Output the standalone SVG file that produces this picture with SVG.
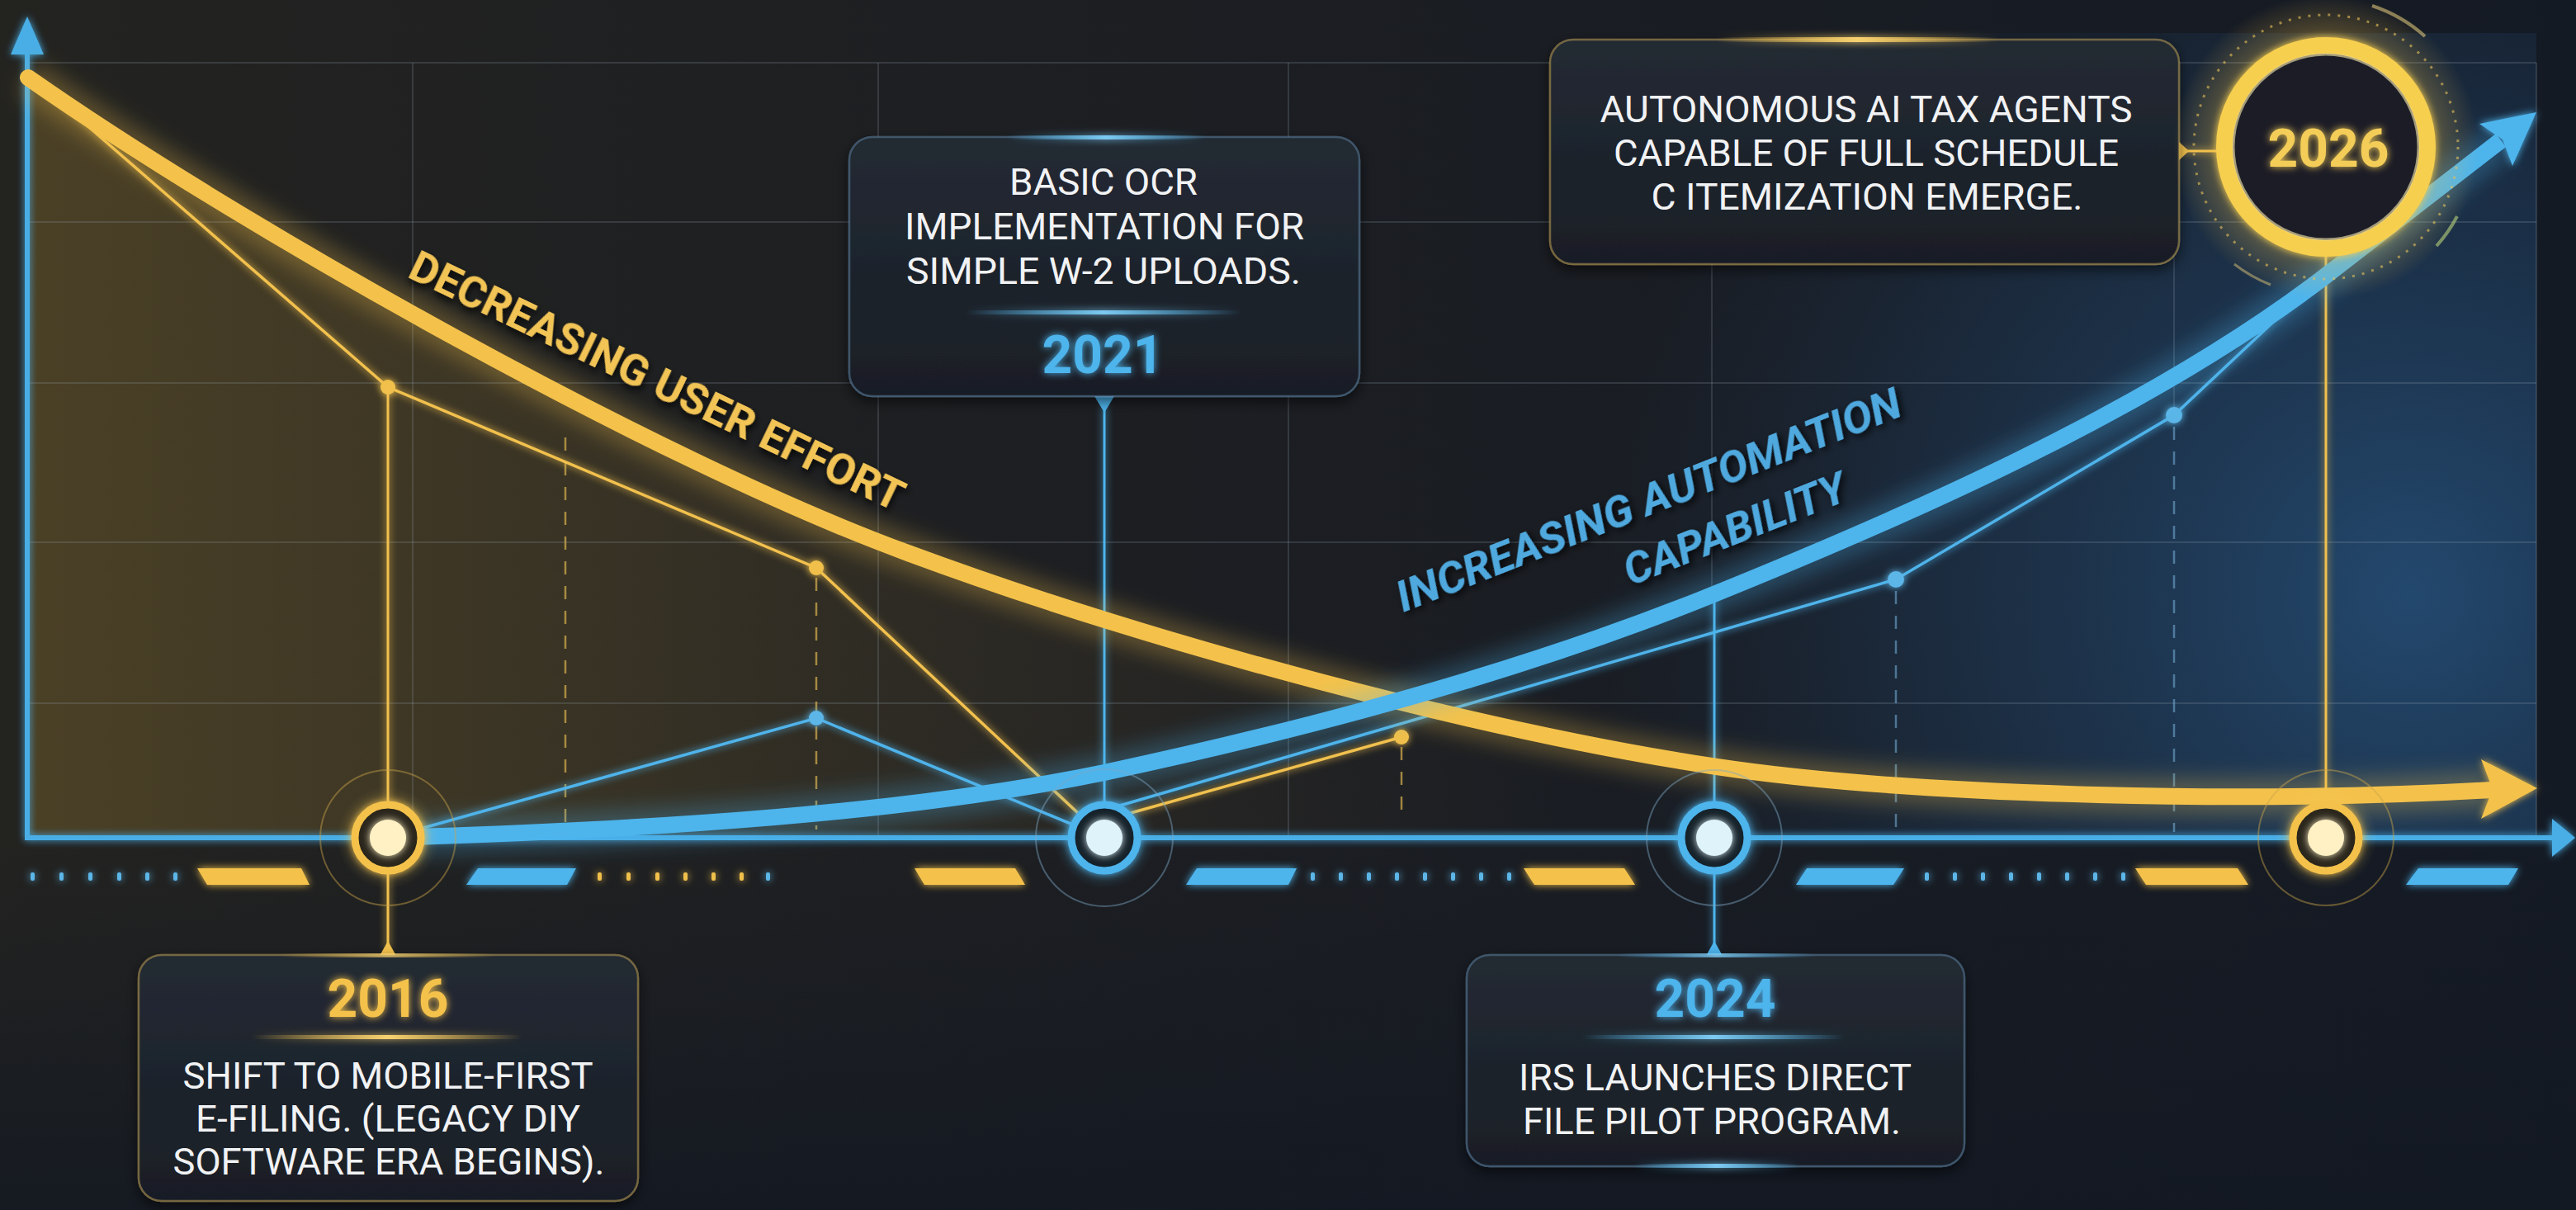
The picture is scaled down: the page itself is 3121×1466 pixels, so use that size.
<svg xmlns="http://www.w3.org/2000/svg" width="3121" height="1466" viewBox="0 0 3121 1466">
<defs>
<style>
.grid{stroke:#9aa8b8;stroke-opacity:.2;stroke-width:2;fill:none}
.dashY{stroke:#d9b04e;stroke-opacity:.7;stroke-width:2.5;stroke-dasharray:16 14;fill:none}
.dashB{stroke:#6fa8d0;stroke-opacity:.6;stroke-width:2.5;stroke-dasharray:16 14;fill:none}
.thinY{stroke:#f2c14e;stroke-width:3.5;fill:none}
.thinB{stroke:#4fb3ea;stroke-width:3.5;fill:none}
.body{font-family:Roboto,'Liberation Sans',sans-serif;font-size:44px;fill:#f1f2f4;text-anchor:middle}
.year{font-family:Roboto,'Liberation Sans',sans-serif;font-size:64px;font-weight:700;text-anchor:middle}
.gold{fill:#f4c24b}
.blue{fill:#4db4ec}
.boxG{fill:url(#boxFill);stroke:#b79a56;stroke-opacity:.55;stroke-width:2.5}
.boxB{fill:url(#boxFill);stroke:#5f86a8;stroke-opacity:.5;stroke-width:2.5}
.curveLbl{font-family:Roboto,'Liberation Sans',sans-serif;font-size:52px;font-weight:700}
.dotB{fill:#5cb6e8}
.dotY{fill:#f0c04c}
.halo{fill:none;stroke-width:2;stroke-opacity:.45}
</style>
<linearGradient id="bg" x1="0" y1="0" x2="1" y2="0">
<stop offset="0" stop-color="#232320"/><stop offset=".45" stop-color="#1c1e22"/><stop offset="1" stop-color="#141a24"/>
</linearGradient>
<linearGradient id="bottomShade" x1="0" y1="0" x2="0" y2="1">
<stop offset="0" stop-color="#141923" stop-opacity="0"/><stop offset="1" stop-color="#121822" stop-opacity=".8"/>
</linearGradient>
<linearGradient id="goldArea" gradientUnits="userSpaceOnUse" x1="34" y1="0" x2="1900" y2="0">
<stop offset="0" stop-color="#d7a83a" stop-opacity=".22"/><stop offset=".5" stop-color="#d7a83a" stop-opacity=".1"/><stop offset="1" stop-color="#d7a83a" stop-opacity="0"/>
</linearGradient>
<radialGradient id="blueGlow" gradientUnits="userSpaceOnUse" cx="2920" cy="720" r="1000">
<stop offset="0" stop-color="#2c679f" stop-opacity=".6"/><stop offset=".6" stop-color="#24507e" stop-opacity=".28"/><stop offset="1" stop-color="#1d3a5a" stop-opacity="0"/>
</radialGradient>
<linearGradient id="boxFill" x1="0" y1="0" x2="0" y2="1">
<stop offset="0" stop-color="#232a33"/><stop offset="1" stop-color="#191e26"/>
</linearGradient>
<linearGradient id="sepGold" x1="0" y1="0" x2="1" y2="0">
<stop offset="0" stop-color="#f4c24b" stop-opacity="0"/><stop offset=".5" stop-color="#f7d170" stop-opacity="1"/><stop offset="1" stop-color="#f4c24b" stop-opacity="0"/>
</linearGradient>
<linearGradient id="sepBlue" x1="0" y1="0" x2="1" y2="0">
<stop offset="0" stop-color="#4db4ec" stop-opacity="0"/><stop offset=".5" stop-color="#7ccaf2" stop-opacity="1"/><stop offset="1" stop-color="#4db4ec" stop-opacity="0"/>
</linearGradient>
<radialGradient id="ringGlow" cx=".5" cy=".5" r=".5">
<stop offset=".55" stop-color="#f7cf4f" stop-opacity=".55"/><stop offset=".75" stop-color="#f4c24b" stop-opacity=".25"/><stop offset="1" stop-color="#f4c24b" stop-opacity="0"/>
</radialGradient>
<radialGradient id="nodeGlowY" cx=".5" cy=".5" r=".5">
<stop offset="0" stop-color="#f7d060" stop-opacity=".5"/><stop offset="1" stop-color="#f7d060" stop-opacity="0"/>
</radialGradient>
<radialGradient id="nodeGlowB" cx=".5" cy=".5" r=".5">
<stop offset="0" stop-color="#5cc0f2" stop-opacity=".5"/><stop offset="1" stop-color="#5cc0f2" stop-opacity="0"/>
</radialGradient>
<filter id="glow" filterUnits="userSpaceOnUse" x="0" y="0" width="3121" height="1466">
<feGaussianBlur in="SourceGraphic" stdDeviation="5" result="b"/>
<feMerge><feMergeNode in="b"/><feMergeNode in="SourceGraphic"/></feMerge>
</filter>
<filter id="glowB" x="-50%" y="-50%" width="200%" height="200%">
<feGaussianBlur in="SourceGraphic" stdDeviation="5" result="b"/>
<feMerge><feMergeNode in="b"/><feMergeNode in="SourceGraphic"/></feMerge>
</filter>
<filter id="soft" filterUnits="userSpaceOnUse" x="0" y="0" width="3121" height="1466">
<feGaussianBlur stdDeviation="12"/>
</filter>
<filter id="shadow" filterUnits="userSpaceOnUse" x="0" y="0" width="3121" height="1466">
<feGaussianBlur in="SourceAlpha" stdDeviation="8" result="s"/>
<feOffset dx="0" dy="6" in="s" result="o"/>
<feComponentTransfer in="o" result="o2"><feFuncA type="linear" slope=".6"/></feComponentTransfer>
<feMerge><feMergeNode in="o2"/><feMergeNode in="SourceGraphic"/></feMerge>
</filter>
<filter id="textShadow" x="-10%" y="-40%" width="120%" height="180%">
<feGaussianBlur in="SourceAlpha" stdDeviation="4" result="s"/>
<feOffset dx="3" dy="4" in="s" result="o"/>
<feComponentTransfer in="o" result="o2"><feFuncA type="linear" slope=".8"/></feComponentTransfer>
<feMerge><feMergeNode in="o2"/><feMergeNode in="SourceGraphic"/></feMerge>
</filter>
</defs>

<!-- background -->
<rect x="0" y="0" width="3121" height="1466" fill="url(#bg)"/>
<rect x="0" y="1015" width="3121" height="451" fill="url(#bottomShade)"/>
<path d="M34,94 C300,280 800,560 1100,670 C1400,781 1800,887 2080,929 L2080,1015 L34,1015 Z" fill="url(#goldArea)"/>
<rect x="1600" y="40" width="1473" height="975" fill="url(#blueGlow)"/>

<!-- grid -->
<g id="grid">
<line class="grid" x1="33" y1="76" x2="3073" y2="76"/>
<line class="grid" x1="33" y1="269" x2="3073" y2="269"/>
<line class="grid" x1="33" y1="464" x2="3073" y2="464"/>
<line class="grid" x1="33" y1="657" x2="3073" y2="657"/>
<line class="grid" x1="33" y1="852" x2="3073" y2="852"/>
<line class="grid" x1="500" y1="76" x2="500" y2="1015"/>
<line class="grid" x1="1064" y1="76" x2="1064" y2="1015"/>
<line class="grid" x1="1561" y1="76" x2="1561" y2="1015"/>
<line class="grid" x1="2074" y1="76" x2="2074" y2="715"/>
<line class="grid" x1="2634" y1="76" x2="2634" y2="503"/>
<line class="grid" x1="3073" y1="76" x2="3073" y2="1015"/>
<line class="dashY" x1="685" y1="530" x2="685" y2="1005"/>
<line class="dashY" x1="989" y1="700" x2="989" y2="1005"/>
<line class="dashY" x1="1698" y1="905" x2="1698" y2="995"/>
<line class="dashB" x1="2297" y1="716" x2="2297" y2="1008"/>
<line class="dashB" x1="2634" y1="517" x2="2634" y2="1008"/>
</g>

<!-- connectors and data lines -->
<g id="connectors">
<polyline class="thinY" points="40,95 470,469 989,688 1338,1015" filter="url(#glow)"/>
<polyline class="thinY" points="1345,992 1698,893" filter="url(#glow)"/>
<polyline class="thinB" points="470,1015 989,870 1338,1015" filter="url(#glow)"/>
<polyline class="thinB" points="1350,978 2297,702 2634,503 2818,330" filter="url(#glow)"/>
<circle class="dotY" cx="470" cy="469" r="9" filter="url(#glowB)"/>
<circle class="dotY" cx="989" cy="688" r="9" filter="url(#glowB)"/>
<circle class="dotY" cx="1698" cy="893" r="9" filter="url(#glowB)"/>
<circle class="dotB" cx="989" cy="870" r="9" filter="url(#glowB)"/>
<circle class="dotB" cx="2297" cy="702" r="10" filter="url(#glowB)"/>
<circle class="dotB" cx="2634" cy="503" r="10" filter="url(#glowB)"/>
<line x1="470" y1="469" x2="470" y2="1150" stroke="#f2c14e" stroke-width="3" filter="url(#glow)"/>
<polygon points="460,1158 480,1158 470,1140" fill="#f2c14e"/>
<line x1="1338" y1="490" x2="1338" y2="1015" stroke="#4db4ec" stroke-width="3" filter="url(#glow)"/>
<polygon points="1326,480 1350,480 1338,500" fill="#4db4ec"/>
<line x1="2077" y1="715" x2="2077" y2="1150" stroke="#4db4ec" stroke-width="3" filter="url(#glow)"/>
<polygon points="2067,1158 2087,1158 2077,1140" fill="#4db4ec"/>
<line x1="2818" y1="300" x2="2818" y2="1015" stroke="#f2c14e" stroke-width="3" filter="url(#glow)"/>
<line x1="2640" y1="183" x2="2700" y2="183" stroke="#f2c14e" stroke-width="3" filter="url(#glow)"/>
<polygon points="2638,170 2652,183 2638,196" fill="#f2c14e"/>
<g filter="url(#glow)">
<line x1="33" y1="1015" x2="33" y2="60" stroke="#4aaee6" stroke-width="6"/>
<polygon points="33,20 13,66 53,66" fill="#4aaee6"/>
<line x1="30" y1="1015" x2="3096" y2="1015" stroke="#4aaee6" stroke-width="6"/>
<polygon points="3120,1015 3092,992 3092,1038" fill="#4aaee6"/>
</g>
<path d="M34,94 C300,280 800,560 1100,670 C1400,781 1800,887 2080,929 C2300,962 2700,975 3020,957" fill="none" stroke="#f4c24b" stroke-width="44" stroke-opacity=".28" filter="url(#soft)"/>
<path d="M34,94 C300,280 800,560 1100,670 C1400,781 1800,887 2080,929 C2300,962 2700,975 3020,957" fill="none" stroke="#f4c24b" stroke-width="20" stroke-linecap="round"/>
<polygon points="3074,955 3006,920 3020,956 3006,992" fill="#f4c24b" filter="url(#glowB)"/>
<path d="M470,1015 C800,1005 1100,985 1338,936 C1600,880 1850,810 2059,727 C2300,630 2600,500 2814,337 L3030,170" fill="none" stroke="#4db4ec" stroke-width="44" stroke-opacity=".28" filter="url(#soft)"/>
<path d="M470,1015 C800,1005 1100,985 1338,936 C1600,880 1850,810 2059,727 C2300,630 2600,500 2814,337 L3030,170" fill="none" stroke="#4db4ec" stroke-width="20"/>
<polygon points="3073,136 3044,201 3032,169 3004,150" fill="#4db4ec" filter="url(#glowB)"/>
</g>

<!-- curve labels -->
<g id="label-effort" transform="translate(492,335) rotate(25.7)">
<text class="curveLbl" x="0" y="0" fill="#f2c457" textLength="658" lengthAdjust="spacingAndGlyphs" filter="url(#textShadow)">DECREASING USER EFFORT</text>
</g>
<g id="label-automation" transform="translate(1700,742) rotate(-21.5)">
<text class="curveLbl" x="0" y="0" fill="#4fa9de" font-style="italic" textLength="653" lengthAdjust="spacingAndGlyphs" filter="url(#textShadow)">INCREASING AUTOMATION</text>
<text class="curveLbl" x="268" y="71" fill="#4fa9de" font-style="italic" textLength="286" lengthAdjust="spacingAndGlyphs" filter="url(#textShadow)">CAPABILITY</text>
</g>

<!-- event cards -->
<g id="card-2016">
<rect class="boxG" x="168" y="1157" width="605" height="298" rx="28" filter="url(#shadow)"/>
<rect x="340" y="1155" width="260" height="5" fill="url(#sepGold)" opacity=".7"/>
<text class="year gold" x="470" y="1232" filter="url(#glowB)">2016</text>
<rect x="306" y="1254" width="326" height="5" fill="url(#sepGold)" filter="url(#glow)"/>
<text class="body" x="470" y="1319" textLength="497" lengthAdjust="spacingAndGlyphs">SHIFT TO MOBILE-FIRST</text>
<text class="body" x="470" y="1371" textLength="466" lengthAdjust="spacingAndGlyphs">E-FILING. (LEGACY DIY</text>
<text class="body" x="471" y="1423" textLength="523" lengthAdjust="spacingAndGlyphs">SOFTWARE ERA BEGINS).</text>
</g>

<g id="card-2021">
<rect class="boxB" x="1029" y="166" width="618" height="314" rx="28" filter="url(#shadow)"/>
<rect x="1220" y="164" width="240" height="5" fill="url(#sepBlue)" filter="url(#glow)"/>
<text class="body" x="1337" y="236" textLength="228" lengthAdjust="spacingAndGlyphs">BASIC OCR</text>
<text class="body" x="1338" y="290" textLength="484" lengthAdjust="spacingAndGlyphs">IMPLEMENTATION FOR</text>
<text class="body" x="1337" y="344" textLength="478" lengthAdjust="spacingAndGlyphs">SIMPLE W-2 UPLOADS.</text>
<rect x="1170" y="376" width="334" height="5" fill="url(#sepBlue)" filter="url(#glow)"/>
<text class="year blue" x="1336" y="452" filter="url(#glowB)">2021</text>
</g>

<g id="card-2024">
<rect class="boxB" x="1777" y="1157" width="603" height="256" rx="28" filter="url(#shadow)"/>
<rect x="1960" y="1155" width="240" height="5" fill="url(#sepBlue)" opacity=".8"/>
<rect x="1980" y="1410" width="200" height="5" fill="url(#sepBlue)" filter="url(#glow)"/>
<text class="year blue" x="2078" y="1232" filter="url(#glowB)">2024</text>
<rect x="1917" y="1254" width="318" height="5" fill="url(#sepBlue)" filter="url(#glow)"/>
<text class="body" x="2078" y="1321" textLength="476" lengthAdjust="spacingAndGlyphs">IRS LAUNCHES DIRECT</text>
<text class="body" x="2074" y="1374" textLength="458" lengthAdjust="spacingAndGlyphs">FILE PILOT PROGRAM.</text>
</g>

<g id="card-2026">
<rect class="boxG" x="1878" y="48" width="762" height="272" rx="28" filter="url(#shadow)"/>
<rect x="2080" y="45" width="340" height="6" fill="url(#sepGold)" filter="url(#glow)"/>
<text class="body" x="2261" y="148" textLength="645" lengthAdjust="spacingAndGlyphs">AUTONOMOUS AI TAX AGENTS</text>
<text class="body" x="2261" y="201" textLength="612" lengthAdjust="spacingAndGlyphs">CAPABLE OF FULL SCHEDULE</text>
<text class="body" x="2262" y="254" textLength="523" lengthAdjust="spacingAndGlyphs">C ITEMIZATION EMERGE.</text>
</g>

<g id="badge-2026">
<circle cx="2818" cy="178" r="185" fill="url(#ringGlow)"/>
<circle cx="2818" cy="178" r="160" fill="none" stroke="#e8c25a" stroke-opacity=".6" stroke-width="3" stroke-dasharray="3 9"/>
<path d="M2874,7 A180,180 0 0 1 2938,44" fill="none" stroke="#d9c27a" stroke-opacity=".6" stroke-width="4"/>
<path d="M2977,262 A180,180 0 0 1 2952,298" fill="none" stroke="#b9d27a" stroke-opacity=".6" stroke-width="4"/>
<path d="M2751,345 A180,180 0 0 1 2707,320" fill="none" stroke="#d9c27a" stroke-opacity=".5" stroke-width="3"/>
<circle cx="2818" cy="178" r="123" fill="#1a1e27" stroke="#f7cf4f" stroke-width="20" filter="url(#glowB)"/>
<circle cx="2818" cy="178" r="112" fill="none" stroke="#fff0b0" stroke-opacity=".6" stroke-width="3"/>
<text class="year" x="2821" y="202" font-size="62" fill="#f3cd58" filter="url(#glowB)">2026</text>
</g>

<!-- timeline markers -->
<g id="node-2016">
<circle class="halo" cx="470" cy="1015" r="82" stroke="#c9a44a"/>
<circle cx="470" cy="1015" r="62" fill="url(#nodeGlowY)"/>
<circle cx="470" cy="1015" r="40" fill="#29261c" stroke="#f4c24b" stroke-width="9" filter="url(#glowB)"/>
<circle cx="470" cy="1015" r="22" fill="#fff1c4" filter="url(#glowB)"/>
</g>
<g id="node-2021">
<circle class="halo" cx="1338" cy="1015" r="83" stroke="#7fa9c8"/>
<circle cx="1338" cy="1015" r="62" fill="url(#nodeGlowB)"/>
<circle cx="1338" cy="1015" r="40" fill="#16202b" stroke="#4db4ec" stroke-width="9" filter="url(#glowB)"/>
<circle cx="1338" cy="1015" r="22" fill="#dff3fb" filter="url(#glowB)"/>
</g>
<g id="node-2024">
<circle class="halo" cx="2077" cy="1015" r="82" stroke="#7fa9c8"/>
<circle cx="2077" cy="1015" r="62" fill="url(#nodeGlowB)"/>
<circle cx="2077" cy="1015" r="40" fill="#16202b" stroke="#4db4ec" stroke-width="9" filter="url(#glowB)"/>
<circle cx="2077" cy="1015" r="22" fill="#dff3fb" filter="url(#glowB)"/>
</g>
<g id="node-2026">
<circle class="halo" cx="2818" cy="1015" r="82" stroke="#c9a44a"/>
<circle cx="2818" cy="1015" r="62" fill="url(#nodeGlowY)"/>
<circle cx="2818" cy="1015" r="40" fill="#29261c" stroke="#f4c24b" stroke-width="9" filter="url(#glowB)"/>
<circle cx="2818" cy="1015" r="22" fill="#fff1c4" filter="url(#glowB)"/>
</g>

<!-- dashed band -->
<g id="timeline-band" filter="url(#glow)">
<polygon class="gold" points="239,1052 365,1052 375,1072 251,1072"/>
<polygon class="gold" points="1108,1052 1230,1052 1242,1072 1120,1072"/>
<polygon class="gold" points="1846,1052 1968,1052 1981,1072 1859,1072"/>
<polygon class="gold" points="2587,1052 2711,1052 2724,1072 2600,1072"/>
<polygon class="blue" points="579,1052 698,1052 687,1072 565,1072"/>
<polygon class="blue" points="1450,1052 1571,1052 1561,1072 1437,1072"/>
<polygon class="blue" points="2189,1052 2307,1052 2294,1072 2176,1072"/>
<polygon class="blue" points="2930,1052 3051,1052 3039,1072 2915,1072"/>
<g class="dotB">
<rect x="37" y="1057" width="5" height="10" rx="2"/><rect x="72" y="1057" width="5" height="10" rx="2"/><rect x="107" y="1057" width="5" height="10" rx="2"/><rect x="142" y="1057" width="5" height="10" rx="2"/><rect x="176" y="1057" width="5" height="10" rx="2"/><rect x="210" y="1057" width="5" height="10" rx="2"/>
<rect x="928" y="1057" width="5" height="10" rx="2"/>
<rect x="1588" y="1057" width="5" height="10" rx="2"/><rect x="1622" y="1057" width="5" height="10" rx="2"/><rect x="1656" y="1057" width="5" height="10" rx="2"/><rect x="1690" y="1057" width="5" height="10" rx="2"/><rect x="1724" y="1057" width="5" height="10" rx="2"/><rect x="1758" y="1057" width="5" height="10" rx="2"/><rect x="1792" y="1057" width="5" height="10" rx="2"/><rect x="1826" y="1057" width="5" height="10" rx="2"/>
<rect x="2332" y="1057" width="5" height="10" rx="2"/><rect x="2366" y="1057" width="5" height="10" rx="2"/><rect x="2400" y="1057" width="5" height="10" rx="2"/><rect x="2434" y="1057" width="5" height="10" rx="2"/><rect x="2468" y="1057" width="5" height="10" rx="2"/><rect x="2502" y="1057" width="5" height="10" rx="2"/><rect x="2536" y="1057" width="5" height="10" rx="2"/><rect x="2570" y="1057" width="5" height="10" rx="2"/>
</g>
<g class="dotY">
<rect x="724" y="1057" width="5" height="10" rx="2"/><rect x="759" y="1057" width="5" height="10" rx="2"/><rect x="794" y="1057" width="5" height="10" rx="2"/><rect x="828" y="1057" width="5" height="10" rx="2"/><rect x="862" y="1057" width="5" height="10" rx="2"/><rect x="896" y="1057" width="5" height="10" rx="2"/>
</g>
</g>
</svg>
